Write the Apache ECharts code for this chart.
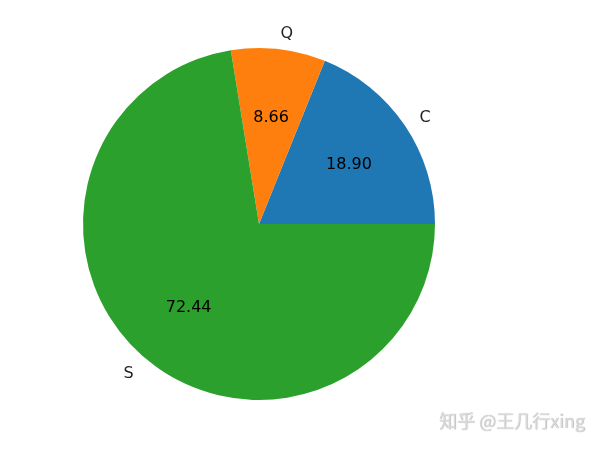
<!DOCTYPE html>
<html>
<head>
<meta charset="utf-8" />
<title>pie</title>
<script src="https://cdn.jsdelivr.net/npm/echarts@6/dist/echarts.min.js"></script>
<style>
  html, body { margin: 0; padding: 0; background: #fff; }
  #main { width: 600px; height: 450px; }
</style>
</head>
<body>
<div id="main"></div>
<script>
// data (percentages, counter-clockwise from 3 o'clock)
var names = ['C', 'Q', 'S'];
var values = [18.90, 8.66, 72.44];
var colors = ['#1f77b4', '#ff7f0e', '#2ca02c'];

var R = 176;
var center = [259, 224];

var pieData = names.map(function (n, i) {
    return { name: n, value: values[i], itemStyle: { color: colors[i] } };
});

var chart = echarts.init(document.getElementById('main'), null, { renderer: 'canvas' });
chart.setOption({
    animation: false,
    backgroundColor: '#fff',
    series: [
        {
            type: 'pie',
            center: center,
            radius: [0, R],
            startAngle: 0,
            clockwise: false,
            silent: true,
            data: pieData,
            itemStyle: { borderWidth: 0 },
            label: {
                show: true,
                position: 'outside',
                formatter: '{b}',
                fontFamily: 'DejaVu Sans',
                fontSize: 16,
                color: '#222',
                distanceToLabelLine: 0,
                offset: [0, 2]
            },
            labelLine: { show: false, length: R * 0.1, length2: 0 }
        },
        {
            // transparent copy, its inside labels land at 0.6 R
            type: 'pie',
            center: center,
            radius: [0, R * 1.2],
            startAngle: 0,
            clockwise: false,
            silent: true,
            z: 5,
            data: names.map(function (n, i) { return { name: n, value: values[i] }; }),
            itemStyle: { color: 'rgba(0,0,0,0)', borderWidth: 0 },
            label: {
                show: true,
                position: 'inside',
                formatter: function (p) { return p.value.toFixed(2); },
                fontFamily: 'DejaVu Sans',
                fontSize: 16,
                color: '#000',
                offset: [0, 1.5]
            },
            labelLine: { show: false }
        }
    ],
    graphic: [
        {
            type: 'text',
            right: 15,
            top: 412,
            style: {
                text: '知乎 @王几行xing',
                font: '18px "Noto Sans CJK SC", sans-serif',
                fill: '#dadada',
                textShadowColor: 'rgba(0,0,0,0.35)',
                textShadowBlur: 1,
                textShadowOffsetX: 0.5,
                textShadowOffsetY: 0.5
            }
        }
    ]
});
</script>
</body>
</html>
